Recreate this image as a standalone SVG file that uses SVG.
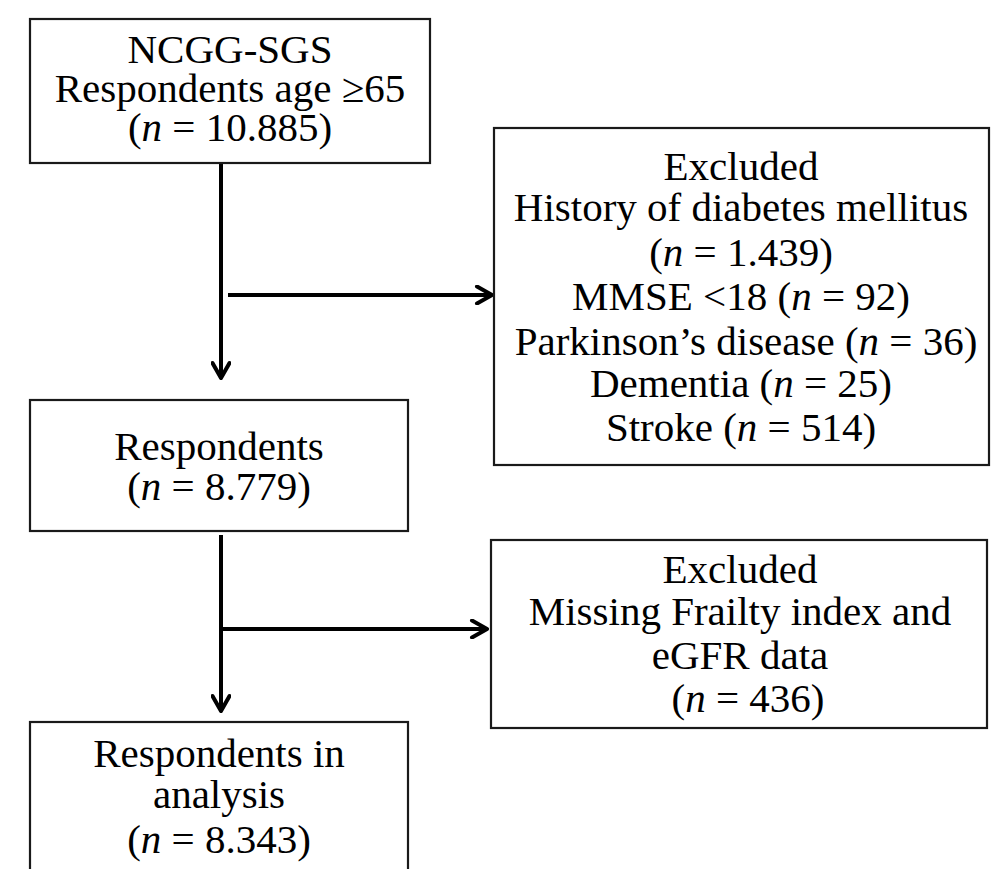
<svg xmlns="http://www.w3.org/2000/svg" width="1008" height="869" viewBox="0 0 1008 869">
<defs>
<style>
.box{fill:#fff;stroke:#1a1a1a;stroke-width:2.2}
.t{font-family:"Liberation Serif","Times New Roman",serif;font-size:41px;fill:#000;text-anchor:middle}
.i{font-style:italic}
.c{stroke:#000;stroke-width:4;fill:none}
</style>
<marker id="ah" markerUnits="userSpaceOnUse" viewBox="0 0 20 20" refX="18" refY="10" markerWidth="20" markerHeight="20" orient="auto">
<path d="M3,1.5 L18,10 L3,18.5" fill="none" stroke="#000" stroke-width="4" stroke-linecap="round" stroke-linejoin="round"/>
</marker>
</defs>
<rect width="1008" height="869" fill="#fff"/>
<g id="connectors">
<line class="c" x1="221" y1="163" x2="221" y2="378" marker-end="url(#ah)"/>
<line class="c" x1="228" y1="295" x2="492" y2="295" marker-end="url(#ah)"/>
<line class="c" x1="221" y1="535" x2="221" y2="711" marker-end="url(#ah)"/>
<line class="c" x1="221" y1="629" x2="487" y2="629" marker-end="url(#ah)"/>
</g>
<g id="node-start">
<rect class="box" x="30" y="19" width="400" height="144"/>
<text class="t" x="230" y="63">NCGG-SGS</text>
<text class="t" x="230" y="102">Respondents age ≥65</text>
<text class="t" x="230" y="141">(<tspan class="i">n</tspan> = 10.885)</text>
</g>
<g id="node-excluded1">
<rect class="box" x="494" y="128" width="495" height="337"/>
<text class="t" x="741" y="180">Excluded</text>
<text class="t" x="741" y="221">History of diabetes mellitus</text>
<text class="t" x="741" y="266">(<tspan class="i">n</tspan> = 1.439)</text>
<text class="t" x="741" y="310">MMSE &lt;18 (<tspan class="i">n</tspan> = 92)</text>
<text class="t" x="746" y="355">Parkinson’s disease (<tspan class="i">n</tspan> = 36)</text>
<text class="t" x="741" y="397">Dementia (<tspan class="i">n</tspan> = 25)</text>
<text class="t" x="741" y="441">Stroke (<tspan class="i">n</tspan> = 514)</text>
</g>
<g id="node-respondents">
<rect class="box" x="30" y="400" width="378" height="131"/>
<text class="t" x="219" y="460">Respondents</text>
<text class="t" x="219" y="500">(<tspan class="i">n</tspan> = 8.779)</text>
</g>
<g id="node-excluded2">
<rect class="box" x="491" y="540" width="496" height="188"/>
<text class="t" x="740" y="583">Excluded</text>
<text class="t" x="740" y="625">Missing Frailty index and</text>
<text class="t" x="740" y="669">eGFR data</text>
<text class="t" x="748" y="712">(<tspan class="i">n</tspan> = 436)</text>
</g>
<g id="node-analysis">
<rect class="box" x="30" y="722" width="378" height="160"/>
<text class="t" x="219" y="767">Respondents in</text>
<text class="t" x="219" y="808">analysis</text>
<text class="t" x="219" y="853">(<tspan class="i">n</tspan> = 8.343)</text>
</g>
</svg>
